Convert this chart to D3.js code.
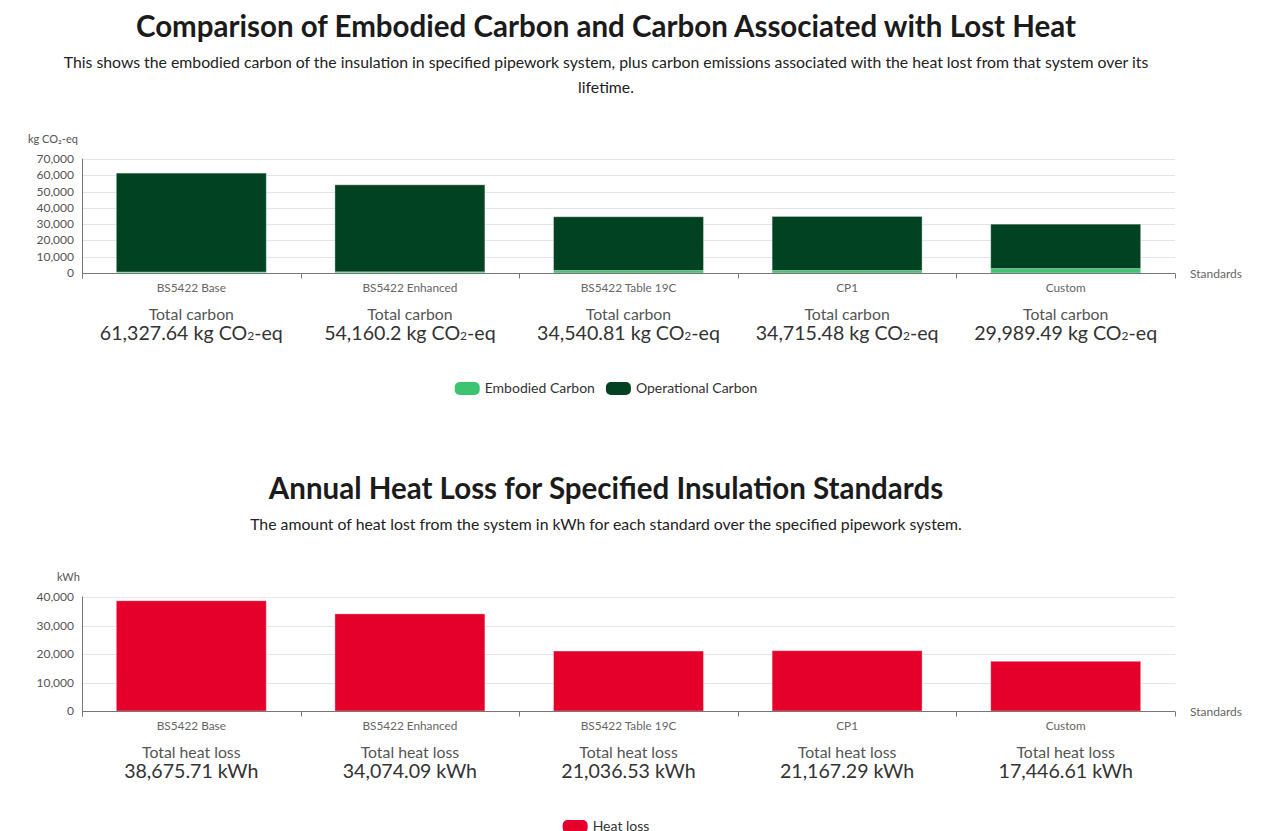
<!DOCTYPE html>
<html>
<head>
<meta charset="utf-8">
<script src="https://cdnjs.cloudflare.com/ajax/libs/d3/7.8.5/d3.min.js"></script>
<style>
  body { margin: 0; background: #fff; font-family: Lato, "Open Sans", sans-serif; }
  svg text { font-family: Lato, "Open Sans", sans-serif; }
</style>
</head>
<body>
<svg id="chart" width="1282" height="831"></svg>
<script>
// data
var standards = ["BS5422 Base", "BS5422 Enhanced", "BS5422 Table 19C", "CP1", "Custom"];
var totalCarbon = [61327.64, 54160.2, 34540.81, 34715.48, 29989.49];
var embodiedCarbon = [600, 700, 1500, 1500, 2700];
var operationalCarbon = totalCarbon.map(function (t, i) { return t - embodiedCarbon[i]; });
var heatLoss = [38675.71, 34074.09, 21036.53, 21167.29, 17446.61];
var carbonTicks = [0, 10000, 20000, 30000, 40000, 50000, 60000, 70000];
var heatTicks = [0, 10000, 20000, 30000, 40000];

var svg = d3.select("#chart"),
    fmt = d3.format(","),
    LEFT = 82, RIGHT = 1175;

var x = d3.scaleBand().domain(standards).range([LEFT, RIGHT]).paddingInner(0.314).paddingOuter(0.157);

function heading(y, title, lines) {
    svg.append("text").attr("x", 606).attr("y", y).attr("text-anchor", "middle")
        .attr("font-size", 29.5).attr("font-weight", "bold").attr("fill", "#1b1b1b").text(title);
    lines.forEach(function (l, i) {
        svg.append("text").attr("x", 606).attr("y", y + 31 + i * 25).attr("text-anchor", "middle")
            .attr("font-size", 15.8).attr("fill", "#222").text(l);
    });
}

function frame(y, ticks, unitLabel, unitX) {
    var g = svg.append("g");
    g.selectAll(".grid").data(ticks.slice(1)).enter().append("line")
        .attr("x1", LEFT).attr("x2", RIGHT)
        .attr("y1", function (d) { return Math.round(y(d)) + 0.5; })
        .attr("y2", function (d) { return Math.round(y(d)) + 0.5; })
        .attr("stroke", "#e1e5ee");
    g.selectAll(".tl").data(ticks).enter().append("text")
        .attr("x", 74).attr("y", function (d) { return y(d) + 4; })
        .attr("text-anchor", "end").attr("font-size", 12).attr("fill", "#555")
        .text(function (d) { return fmt(d); });
    g.append("text").attr("x", unitX).attr("y", y(ticks[ticks.length - 1]) - 16)
        .attr("font-size", 11).attr("fill", "#555").text(unitLabel);
    return g;
}

function baseAxis(g, y0, totalsLabel, totals, unit) {
    var zero = Math.round(y0) + 0.5;
    g.append("line").attr("x1", LEFT).attr("x2", RIGHT).attr("y1", zero).attr("y2", zero)
        .attr("stroke", "#777");
    g.append("line").attr("x1", LEFT + 0.5).attr("x2", LEFT + 0.5).attr("y1", zero - 115).attr("y2", zero + 5)
        .attr("stroke", "#777");
    var edges = standards.map(function (s) { return x(s) - x.step() * x.paddingInner() / 2; }).concat([RIGHT]);
    g.selectAll(".tick").data(edges).enter().append("line")
        .attr("x1", function (d) { return Math.round(d) + 0.5; }).attr("x2", function (d) { return Math.round(d) + 0.5; })
        .attr("y1", zero).attr("y2", zero + 5).attr("stroke", "#777");
    g.selectAll(".cat").data(standards).enter().append("text")
        .attr("x", function (d) { return x(d) + x.bandwidth() / 2; }).attr("y", zero + 18)
        .attr("text-anchor", "middle").attr("font-size", 11.8).attr("fill", "#666")
        .text(function (d) { return d; });
    g.append("text").attr("x", 1190).attr("y", zero + 4).attr("font-size", 12).attr("fill", "#666").text("Standards");
    g.selectAll(".tt").data(standards).enter().append("text")
        .attr("x", function (d) { return x(d) + x.bandwidth() / 2; }).attr("y", zero + 46)
        .attr("text-anchor", "middle").attr("font-size", 15.8).attr("fill", "#555")
        .text(totalsLabel);
    g.selectAll(".tv").data(totals).enter().append("text")
        .attr("x", function (d, i) { return x(standards[i]) + x.bandwidth() / 2; }).attr("y", zero + 66)
        .attr("text-anchor", "middle").attr("font-size", 19.6).attr("fill", "#333")
        .each(function (d) {
            var t = d3.select(this);
            t.append("tspan").text(fmt(d) + " " + unit.main);
            if (unit.sub) {
                t.append("tspan").attr("font-size", 12).text(unit.sub);
                t.append("tspan").text(unit.tail);
            }
        });
}

// legend items are laid out with measured text widths, then centred
function legend(y, items) {
    var g = svg.append("g"), cx = 0;
    items.forEach(function (it) {
        g.append("rect").attr("x", cx).attr("y", y - 11).attr("width", 25).attr("height", 13)
            .attr("rx", 5).attr("fill", it.color);
        var t = g.append("text").attr("x", cx + 30).attr("y", y).attr("font-size", 14)
            .attr("fill", "#333").text(it.label);
        cx += 30 + t.node().getComputedTextLength() + 11;
    });
    var w = cx - 11;
    g.attr("transform", "translate(" + (606 - w / 2) + ",0)");
}

// ---- chart 1: carbon ----
heading(37, "Comparison of Embodied Carbon and Carbon Associated with Lost Heat",
    ["This shows the embodied carbon of the insulation in specified pipework system, plus carbon emissions associated with the heat lost from that system over its",
     "lifetime."]);

var y1 = d3.scaleLinear().domain([0, 70000]).range([273, 159]);
var g1 = frame(y1, carbonTicks, "kg CO\u2082-eq", 28);

var stack = d3.stack().keys(["embodied", "operational"])(standards.map(function (s, i) {
    return { name: s, embodied: embodiedCarbon[i], operational: operationalCarbon[i] };
}));
var carbonColors = { embodied: "#3cc471", operational: "#004221" };
stack.forEach(function (layer) {
    g1.selectAll(".b-" + layer.key).data(layer).enter().append("rect")
        .attr("x", function (d) { return x(d.data.name); })
        .attr("width", x.bandwidth())
        .attr("y", function (d) { return y1(d[1]); })
        .attr("height", function (d) { return y1(d[0]) - y1(d[1]); })
        .attr("fill", carbonColors[layer.key])
        .attr("stroke", "rgba(255,255,255,0.35)").attr("stroke-width", 1);
});
baseAxis(g1, y1(0), "Total carbon", totalCarbon, { main: "kg CO", sub: "2", tail: "-eq" });
legend(393, [{ label: "Embodied Carbon", color: carbonColors.embodied },
             { label: "Operational Carbon", color: carbonColors.operational }]);

// ---- chart 2: heat loss ----
heading(499, "Annual Heat Loss for Specified Insulation Standards",
    ["The amount of heat lost from the system in kWh for each standard over the specified pipework system."]);

var y2 = d3.scaleLinear().domain([0, 40000]).range([711, 597]);
var g2 = frame(y2, heatTicks, "kWh", 57);
g2.selectAll(".heat").data(heatLoss).enter().append("rect")
    .attr("x", function (d, i) { return x(standards[i]); })
    .attr("width", x.bandwidth())
    .attr("y", function (d) { return y2(d); })
    .attr("height", function (d) { return y2(0) - y2(d); })
    .attr("fill", "#e4002b")
    .attr("stroke", "rgba(255,255,255,0.35)").attr("stroke-width", 1);
baseAxis(g2, y2(0), "Total heat loss", heatLoss, { main: "kWh" });
legend(831, [{ label: "Heat loss", color: "#e4002b" }]);
</script>
</body>
</html>
